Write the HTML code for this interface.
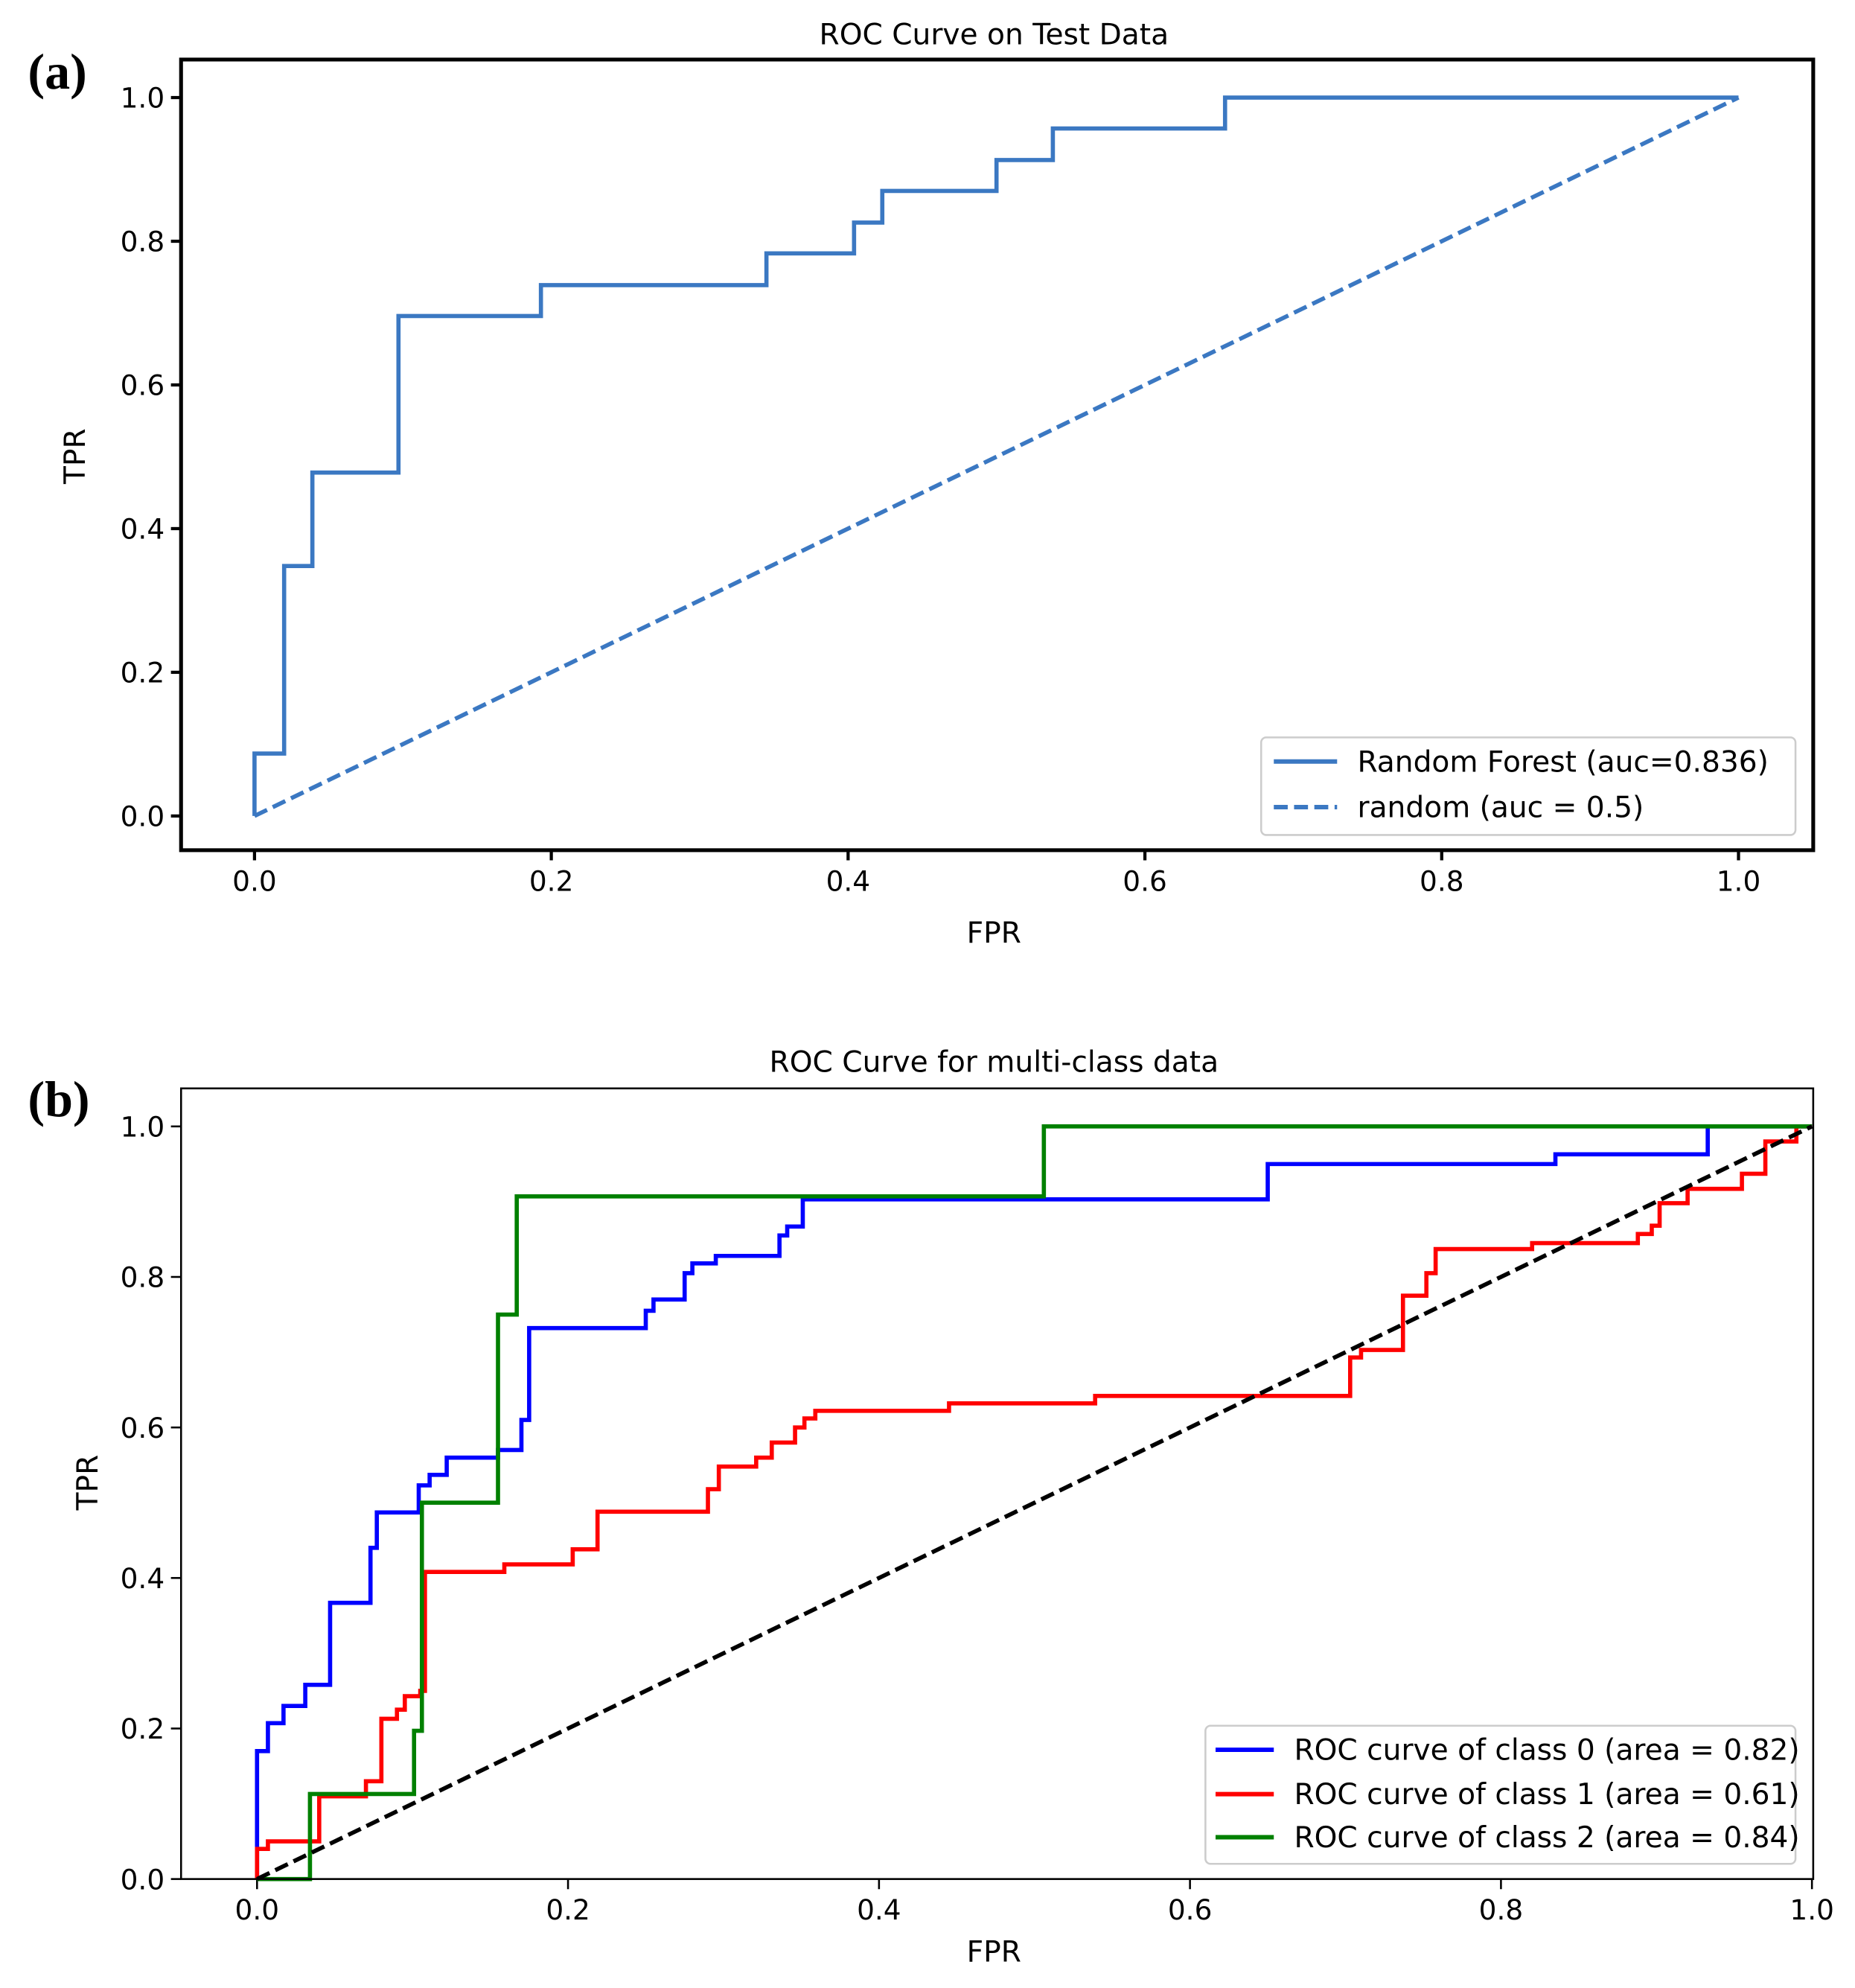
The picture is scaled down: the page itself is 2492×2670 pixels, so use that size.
<!DOCTYPE html>
<html><head><meta charset="utf-8"><style>html,body{margin:0;padding:0;background:#fff}svg{display:block}</style></head>
<body>
<svg id="s" width="2492" height="2670" viewBox="0 0 1465 1569" preserveAspectRatio="none" xmlns="http://www.w3.org/2000/svg" font-family="DejaVu Sans, Liberation Sans, sans-serif">
<rect width="1465" height="1569" fill="#fff"/>
<!-- Panel a -->
<text x="785" y="35" font-size="23" text-anchor="middle">ROC Curve on Test Data</text>
<text x="22" y="70" font-size="40" font-weight="bold" font-family="Liberation Serif, serif">(a)</text>
<g id="ga"></g>
<rect x="143" y="47" width="1289" height="624" fill="none" stroke="#000" stroke-width="3"/>
<text x="785" y="744" font-size="23" text-anchor="middle">FPR</text>
<text transform="translate(67,360) rotate(-90)" font-size="23" text-anchor="middle">TPR</text>
<rect x="996" y="582" width="422" height="77" rx="4" fill="#fff" stroke="#ccc" stroke-width="1.5"/>
<line x1="1006" y1="601" x2="1056" y2="601" stroke="#3b78c2" stroke-width="3.5"/>
<line x1="1006" y1="637" x2="1056" y2="637" stroke="#3b78c2" stroke-width="3.5" stroke-dasharray="11,5"/>
<text x="1072" y="609" font-size="23">Random Forest (auc=0.836)</text>
<text x="1072" y="645" font-size="23">random (auc = 0.5)</text>
<!-- Panel b -->
<text x="785" y="846" font-size="23" text-anchor="middle">ROC Curve for multi-class data</text>
<text x="22" y="881" font-size="40" font-weight="bold" font-family="Liberation Serif, serif">(b)</text>
<g id="gb"></g>
<rect x="143" y="859" width="1289" height="624" fill="none" stroke="#000" stroke-width="1.5"/>
<text x="785" y="1548" font-size="23" text-anchor="middle">FPR</text>
<text transform="translate(77,1170) rotate(-90)" font-size="23" text-anchor="middle">TPR</text>
<rect x="952" y="1362" width="466" height="109" rx="4" fill="#fff" stroke="#ccc" stroke-width="1.5"/>
<line x1="960" y1="1381" x2="1006" y2="1381" stroke="#0000ff" stroke-width="3.5"/>
<line x1="960" y1="1416" x2="1006" y2="1416" stroke="#ff0000" stroke-width="3.5"/>
<line x1="960" y1="1450" x2="1006" y2="1450" stroke="#008000" stroke-width="3.5"/>
<text x="1022" y="1389" font-size="23">ROC curve of class 0 (area = 0.82)</text>
<text x="1022" y="1424" font-size="23">ROC curve of class 1 (area = 0.61)</text>
<text x="1022" y="1458" font-size="23">ROC curve of class 2 (area = 0.84)</text>
</svg>
<script>
var NS="http://www.w3.org/2000/svg";
function el(g,t,a){var e=document.createElementNS(NS,t);for(var k in a)e.setAttribute(k,a[k]);g.appendChild(e);return e;}
function axes(g,x0,x1,y0,y1,by,tw){
 for(var i=0;i<=5;i++){var v=i*0.2;var X=x0+(x1-x0)*v,Y=y0+(y1-y0)*v;
  el(g,"line",{x1:X,y1:by,x2:X,y2:by+8,stroke:"#000","stroke-width":tw});
  var t=el(g,"text",{x:X,y:by+32,"font-size":22,"text-anchor":"middle"});t.textContent=v.toFixed(1);
  el(g,"line",{x1:143,y1:Y,x2:135,y2:Y,stroke:"#000","stroke-width":tw});
  var t2=el(g,"text",{x:130,y:Y+8,"font-size":22,"text-anchor":"end"});t2.textContent=v.toFixed(1);}
}
function path(g,pts,x0,x1,y0,y1,col,extra){
 var d="";for(var i=0;i<pts.length;i+=2){d+=(i?"L":"M")+(x0+(x1-x0)*pts[i]).toFixed(1)+","+(y0+(y1-y0)*pts[i+1]).toFixed(1);}
 var a={d:d,fill:"none",stroke:col,"stroke-width":3.3};for(var k in extra)a[k]=extra[k];el(g,"path",a);
}
var ga=document.getElementById("ga"),gb=document.getElementById("gb");
axes(ga,201,1373,644,77,671,2.5);
path(ga,[0,0,1,1],201,1373,644,77,"#3b78c2",{"stroke-dasharray":"11,5"});
path(ga,[0,0,0,0.087,0.02,0.087,0.02,0.348,0.039,0.348,0.039,0.478,0.097,0.478,0.097,0.696,0.193,0.696,0.193,0.739,0.345,0.739,0.345,0.783,0.404,0.783,0.404,0.826,0.423,0.826,0.423,0.870,0.5,0.870,0.5,0.913,0.538,0.913,0.538,0.957,0.654,0.957,0.654,1,1,1],201,1373,644,77,"#3b78c2");
axes(gb,203,1431,1483,889,1483,1.5);
var B=[0,0,0,0.17,0.007,0.17,0.007,0.207,0.017,0.207,0.017,0.23,0.031,0.23,0.031,0.258,0.047,0.258,0.047,0.367,0.073,0.367,0.073,0.44,0.077,0.44,0.077,0.487,0.104,0.487,0.104,0.523,0.111,0.523,0.111,0.537,0.122,0.537,0.122,0.56,0.155,0.56,0.155,0.57,0.17,0.57,0.17,0.61,0.175,0.61,0.175,0.732,0.25,0.732,0.25,0.755,0.255,0.755,0.255,0.77,0.275,0.77,0.275,0.805,0.28,0.805,0.28,0.818,0.295,0.818,0.295,0.828,0.336,0.828,0.336,0.855,0.341,0.855,0.341,0.867,0.351,0.867,0.351,0.903,0.65,0.903,0.65,0.95,0.835,0.95,0.835,0.963,0.933,0.963,0.933,1,1,1];
var R=[0,0,0,0.04,0.007,0.04,0.007,0.05,0.04,0.05,0.04,0.11,0.07,0.11,0.07,0.13,0.08,0.13,0.08,0.213,0.09,0.213,0.09,0.225,0.095,0.225,0.095,0.243,0.105,0.243,0.105,0.25,0.108,0.25,0.108,0.408,0.159,0.408,0.159,0.418,0.203,0.418,0.203,0.438,0.219,0.438,0.219,0.488,0.29,0.488,0.29,0.518,0.297,0.518,0.297,0.548,0.321,0.548,0.321,0.56,0.331,0.56,0.331,0.58,0.346,0.58,0.346,0.6,0.352,0.6,0.352,0.612,0.359,0.612,0.359,0.622,0.445,0.622,0.445,0.632,0.539,0.632,0.539,0.642,0.703,0.642,0.703,0.693,0.71,0.693,0.71,0.703,0.737,0.703,0.737,0.775,0.752,0.775,0.752,0.805,0.758,0.805,0.758,0.837,0.82,0.837,0.82,0.845,0.888,0.845,0.888,0.857,0.897,0.857,0.897,0.868,0.902,0.868,0.902,0.898,0.92,0.898,0.92,0.917,0.955,0.917,0.955,0.937,0.97,0.937,0.97,0.98,0.99,0.98,0.99,1,1,1];
var G=[0,0,0.034,0,0.034,0.113,0.101,0.113,0.101,0.197,0.106,0.197,0.106,0.5,0.155,0.5,0.155,0.75,0.167,0.75,0.167,0.907,0.506,0.907,0.506,1,1,1];
path(gb,B,203,1431,1483,889,"#0000ff");
path(gb,R,203,1431,1483,889,"#ff0000");
path(gb,G,203,1431,1483,889,"#008000");
path(gb,[0,0,1,1],203,1431,1483,889,"#000",{"stroke-dasharray":"11,5"});
</script>
</body></html>
